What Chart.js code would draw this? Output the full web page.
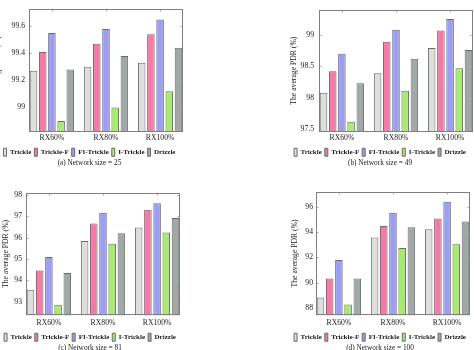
<!DOCTYPE html>
<html>
<head>
<meta charset="utf-8">
<script src="https://cdn.jsdelivr.net/npm/chart.js@4.4.0/dist/chart.umd.min.js"></script>
<style>
body { margin: 0; width: 474px; height: 350px; overflow: hidden; background: #fff; position: relative; }
canvas { position: absolute; }
</style>
</head>
<body>
<canvas id="chart-a" width="190" height="170" style="left:-4px;top:0px"></canvas>
<canvas id="chart-b" width="189" height="170" style="left:287px;top:0px"></canvas>
<canvas id="chart-c" width="183" height="171" style="left:0px;top:184px"></canvas>
<canvas id="chart-d" width="183" height="171" style="left:290px;top:184px"></canvas>
<script>
var categories = ["RX60%", "RX80%", "RX100%"];
var seriesNames = ["Trickle", "Trickle-F", "FI-Trickle", "I-Trickle", "Drizzle"];
var seriesColors = ["#dcdfdc", "#f57aa8", "#9b9ef3", "#a8ec6e", "#a0a9a6"];

// one row per series, one value per category
var pdr25 = [
	[99.27, 99.30, 99.33],
	[99.41, 99.47, 99.54],
	[99.55, 99.58, 99.65],
	[98.90, 99.00, 99.12],
	[99.28, 99.38, 99.44]
];
var ticks25 = [99, 99.2, 99.4, 99.6];

var pdr49 = [
	[98.08, 98.39, 98.79],
	[98.42, 98.89, 99.07],
	[98.70, 99.08, 99.25],
	[97.62, 98.11, 98.47],
	[98.23, 98.62, 98.76]
];
var ticks49 = [97.5, 98, 98.5, 99];

var pdr81 = [
	[93.56, 95.84, 96.48],
	[94.47, 96.67, 97.31],
	[95.10, 97.17, 97.61],
	[92.86, 95.72, 96.24],
	[94.35, 96.21, 96.92]
];
var ticks81 = [93, 94, 95, 96, 97, 98];

var pdr100 = [
	[88.82, 93.57, 94.22],
	[90.31, 94.47, 95.08],
	[91.78, 95.53, 96.40],
	[88.26, 92.73, 93.04],
	[90.31, 94.37, 94.84]
];
var ticks100 = [88, 90, 92, 94, 96];

var serif = "'Liberation Serif', 'Times New Roman', serif";

var boxPlugin = {
	id: 'box',
	afterDatasetsDraw: function(chart) {
		var area = chart.chartArea;
		var ctx = chart.ctx;
		var xs = chart.scales.x, ys = chart.scales.y;
		var l = Math.round(area.left) + 0.5, r = Math.round(area.right) - 0.5;
		var t = Math.round(area.top) + 0.5, b = Math.round(area.bottom) - 0.5;
		
		ctx.save();
		ctx.lineWidth = 1;
		ctx.strokeStyle = '#a8a8a8';
		ctx.beginPath();
		xs.ticks.forEach(function(tick) {
			var x = Math.round(xs.getPixelForValue(tick.value)) + 0.5;
			ctx.moveTo(x, t); ctx.lineTo(x, t + 2);
			ctx.moveTo(x, b); ctx.lineTo(x, b - 2);
		});
		ys.ticks.forEach(function(tick) {
			var y = Math.round(ys.getPixelForValue(tick.value)) + 0.5;
			ctx.moveTo(l, y); ctx.lineTo(l + 2, y);
			ctx.moveTo(r, y); ctx.lineTo(r - 2, y);
		});
		ctx.stroke();
		
		ctx.strokeStyle = '#7f7f7f';
		ctx.strokeRect(l, t, r - l, b - t);
		ctx.restore();
	}
};

function makePanel(canvasId, values, yMin, yMax, yTicks, caption, look) {
	var datasets = [];
	
	for(let s = 0; s < seriesNames.length; s++)
		datasets.push({
			label: seriesNames[s],
			data: values[s].map(function(v, i) { return {x: i, y: v}; }),
			backgroundColor: seriesColors[s],
			borderColor: '#6a6a6a',
			borderWidth: 1,
			categoryPercentage: 0.85,
			barPercentage: 0.82
		});
	
	return new Chart(document.getElementById(canvasId), {
		type: 'bar',
		data: { datasets: datasets },
		plugins: [boxPlugin],
		options: {
			responsive: false,
			animation: false,
			devicePixelRatio: 1,
			layout: { padding: { top: 3, right: 3, bottom: 3, left: 0 } },
			scales: {
				x: {
					type: 'linear',
					min: -0.4236,
					max: 2.4236,
					offset: false,
					grid: { display: false, drawTicks: false },
					border: { display: false },
					afterBuildTicks: function(axis) { axis.ticks = categories.map(function(c, i) { return {value: i}; }); },
					afterFit: function(axis) { axis.height = look.xAxisH; },
					ticks: {
						padding: look.xPad,
						color: '#222',
						font: { family: serif, size: 7.7 },
						maxRotation: 0,
						autoSkip: false,
						callback: function(v) { return categories[v]; }
					}
				},
				y: {
					min: yMin,
					max: yMax,
					grid: { display: false, drawTicks: false },
					border: { display: false },
					afterBuildTicks: function(axis) { axis.ticks = yTicks.map(function(v) { return {value: v}; }); },
					afterFit: function(axis) { axis.width = look.axisW; },
					ticks: {
						padding: look.yPad,
						color: '#222',
						font: { family: serif, size: 7.7 },
						callback: function(v) { return String(+v.toFixed(2)); }
					},
					title: {
						display: true,
						text: 'The average PDR (%)',
						color: '#222',
						font: { family: serif, size: 7.7 },
						padding: { top: look.titlePad, bottom: 0 }
					}
				}
			},
			plugins: {
				legend: {
					position: 'bottom',
					labels: {
						boxWidth: 3,
						boxHeight: 8,
						padding: 3,
						color: '#222',
						font: { family: serif, size: 7, weight: 'bold' }
					}
				},
				title: {
					display: true,
					position: 'bottom',
					text: caption,
					color: '#222',
					font: { family: serif, size: 7.3, weight: 'normal' },
					padding: { top: -8, bottom: 0 }
				},
				tooltip: { enabled: false }
			}
		}
	});
}

window.onload = function() {
	makePanel("chart-a", pdr25, 98.82, 99.73, ticks25, "(a) Network size = 25", {axisW: 33, yPad: 4, titlePad: -3, xAxisH: 13.5, xPad: 1.5});
	makePanel("chart-b", pdr49, 97.46, 99.40, ticks49, "(b) Network size = 49", {axisW: 32, yPad: 5, titlePad: 2.4, xAxisH: 13.5, xPad: 1.5});
	makePanel("chart-c", pdr81, 92.37, 98.11, ticks81, "(c) Network size = 81", {axisW: 26, yPad: 4, titlePad: 1, xAxisH: 15, xPad: 3.3});
	makePanel("chart-d", pdr100, 87.41, 97.2, ticks100, "(d) Network size = 100", {axisW: 26, yPad: 3, titlePad: 0.4, xAxisH: 15, xPad: 3.3});
}
</script>
</body>
</html>
